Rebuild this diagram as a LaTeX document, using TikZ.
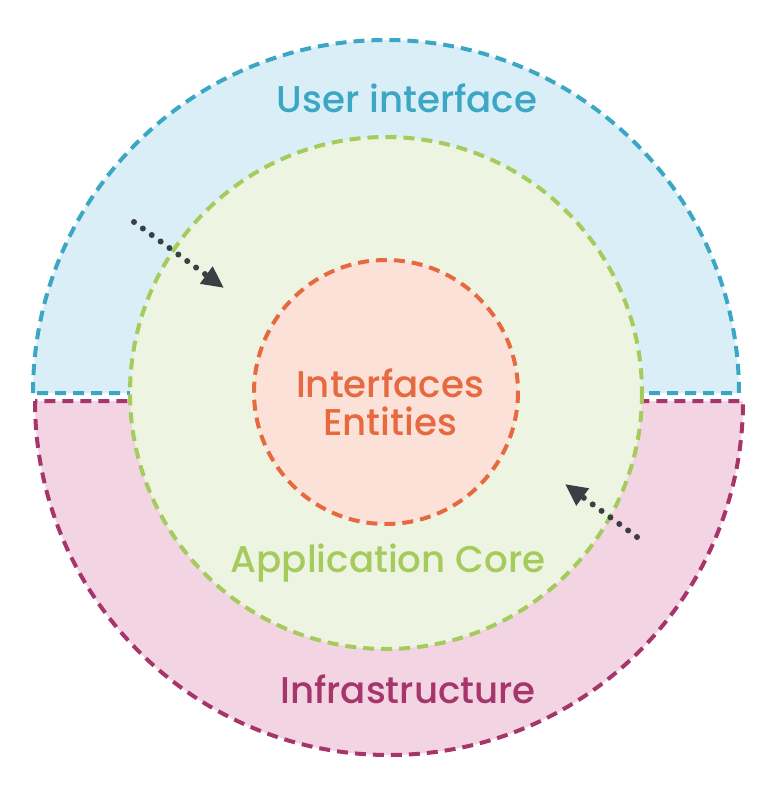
\documentclass[tikz,border=0pt]{standalone}
\usepackage{fontspec}
\setmainfont{Poppins}[UprightFont=* Medium]
\usetikzlibrary{arrows.meta}

\definecolor{uiline}{HTML}{3BA7C5}
\definecolor{uifill}{HTML}{D9EEF6}
\definecolor{infline}{HTML}{A6356B}
\definecolor{inffill}{HTML}{F3D4E2}
\definecolor{appline}{HTML}{A5CB5C}
\definecolor{appfill}{HTML}{EDF4E2}
\definecolor{entline}{HTML}{E6693F}
\definecolor{entfill}{HTML}{FCE1D8}
\definecolor{arrowgray}{HTML}{3A3F44}

\begin{document}
\begin{tikzpicture}[x=0.5pt, y=-0.5pt,
    ring/.style={line width=2pt, dash pattern=on 5.5pt off 3.5pt},
    label/.style={anchor=base, font=\fontsize{18.6}{20}\selectfont},
    flow/.style={arrowgray, line width=3pt, line cap=round,
        dash pattern=on 0pt off 5.5pt,
        -{Triangle[length=11pt, width=10pt]}}]
    \useasboundingbox (0,0) rectangle (781,804);
    \draw[ring, draw=infline, fill=inffill]
        (35,401) arc[start angle=180, end angle=0, radius=354] -- cycle;
    \draw[ring, draw=uiline, fill=uifill]
        (33,393) arc[start angle=180, end angle=360, radius=353] -- cycle;
    \draw[ring, draw=appline, fill=appfill] (386,393) circle[radius=256];
    \draw[ring, draw=entline, fill=entfill] (386,392) circle[radius=132];

    \node[label, text=uiline] (ui) at (407,112) {User interface};
    \node[label, text=entline] (ifc) at (390,397) {Interfaces};
    \node[label, text=entline] (ent) at (390,435) {Entities};
    \node[label, text=appline] (app) at (388,572) {Application Core};
    \node[label, text=infline] (inf) at (408,703) {Infrastructure};

    \coordinate (uitail) at (134,222);
    \coordinate (uitip) at (224,288);
    \coordinate (inftail) at (637,537);
    \coordinate (inftip) at (565,484);
    \foreach \a/\b in {uitail/uitip, inftail/inftip}
        \draw[flow] (\a) -- (\b);
\end{tikzpicture}
\end{document}
